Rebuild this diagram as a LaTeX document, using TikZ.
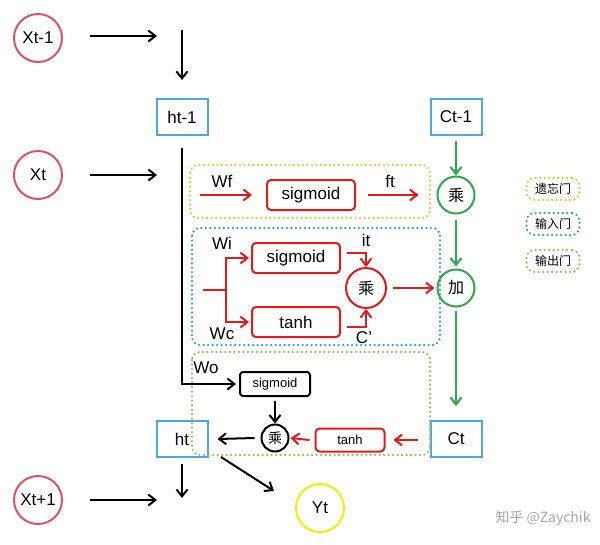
\documentclass[tikz,border=0pt]{standalone}
\usepackage{fontspec}
\setmainfont{Liberation Sans}
\newfontfamily\cjk{Noto Sans CJK SC}
\usetikzlibrary{arrows.meta}
\definecolor{cred}{HTML}{D9555F}
\definecolor{rr}{HTML}{E01B1B}
\definecolor{bb}{HTML}{4FA8D8}
\definecolor{gg}{HTML}{2EA84A}
\definecolor{yy}{HTML}{F0C030}
\definecolor{db}{HTML}{2AA0D0}
\definecolor{lg}{HTML}{90C050}
\begin{document}
\begin{tikzpicture}[x=1pt,y=-1pt,font=\fontsize{17}{19}\selectfont,
 >={Straight Barb[length=7pt,width=11pt,line width=2pt]},
 inc/.style={circle,draw=cred,line width=2pt,minimum size=48pt,inner sep=0},
 st/.style={draw=bb,line width=2pt,minimum width=51pt,minimum height=36pt},
 rbox/.style={draw=rr,line width=2pt,rounded corners=4pt,minimum width=88pt,minimum height=30pt},
 ba/.style={->,line width=2pt,black},
 ra/.style={->,line width=2pt,rr},
 ga/.style={->,line width=2pt,gg},
 gate/.style={line width=2.5pt,dash pattern=on 0pt off 4.5pt,line cap=round,rounded corners=8pt},
 lab/.style={inner sep=0}]
\useasboundingbox (0,0) rectangle (600,544);
\node[inc] (x1) at (38,38) {Xt-1};
\node[inc] (x2) at (38,175) {Xt};
\node[inc] (x3) at (38,500) {Xt+1};
\node[st] (h1) at (182,117) {ht-1};
\node[st] (c1) at (456,117) {Ct-1};
\node[st] (ht) at (182,439) {ht};
\node[st] (ct) at (456,439) {Ct};
\coordinate (a1) at (90,36); \coordinate (a1e) at (157,36);
\coordinate (a2) at (90,175); \coordinate (a2e) at (157,175);
\coordinate (a3) at (90,500); \coordinate (a3e) at (157,500);
\draw[ba] (a1) -- (a1e); \draw[ba] (a2) -- (a2e); \draw[ba] (a3) -- (a3e);
\coordinate (d1) at (182,30); \draw[ba] (d1) -- (182,80);
% gates
\draw[gate,yy] (190,165) rectangle (430,218);
\draw[gate,db] (192,228) rectangle (440,345);
\draw[gate,lg] (192,352) rectangle (430,455);
% forget
\node[rbox] (sf) at (311,195) {sigmoid};
\node[lab] at (222,181) {Wf};
\node[lab] at (390,181) {ft};
\coordinate (f0) at (200,195);
\draw[ra] (f0) -- ([xshift=-14pt]sf.west);
\node[circle,draw=gg,line width=2pt,minimum size=37pt,inner sep=0,font=\cjk\fontsize{16}{18}\selectfont] (m1) at (456,195) {乘};
\draw[ra] ([xshift=12pt]sf.east) -- ([xshift=-18pt]m1.west);
\draw[ga] ([yshift=-5pt]c1.south) -- (m1.north);
\node[circle,draw=gg,line width=2pt,minimum size=37pt,inner sep=0,font=\cjk\fontsize{16}{18}\selectfont] (p1) at (456,288) {加};
\draw[ga] ([yshift=-5pt]m1.south) -- ([yshift=2pt]p1.north);
\draw[ga] ([yshift=-3pt]p1.south) -- ([yshift=14pt]ct.north);
% input
\node[rbox] (si) at (296,258) {sigmoid};
\node[rbox] (tc) at (296,322) {tanh};
\node[lab] at (222,243) {Wi};
\node[lab] at (222,334) {Wc};
\node[lab] at (366,240) {it};
\node[lab] at (364,338) {C’};
\coordinate (b0) at (203,290); \coordinate (b1) at (226,290);
\draw[line width=2pt,rr] (b0) -- (b1);
\draw[ra] (b1) |- ([xshift=-2pt]si.west);
\draw[ra] (b1) |- ([xshift=-2pt]tc.west);
\node[circle,draw=rr,line width=2pt,minimum size=40pt,inner sep=0,font=\cjk\fontsize{16}{18}\selectfont] (m2) at (366,288) {乘};
\draw[ra] ([xshift=6pt,yshift=5pt]si.east) -| (m2.north);
\draw[ra] ([xshift=6pt,yshift=-5pt]tc.east) -| (m2.south);
\draw[ra] ([xshift=6pt]m2.east) -- ([xshift=-2pt]p1.west);
% output
\node[draw,line width=2pt,rounded corners=3pt,minimum width=70pt,minimum height=24pt,inner sep=0,font=\fontsize{13}{15}\selectfont] (so) at (275,384) {sigmoid};
\node[lab] at (206,368) {Wo};
\coordinate (v0) at (182,148);
\draw[ba] (v0) |- ([xshift=-3pt]so.west);
\node[circle,draw,line width=2pt,minimum size=27pt,inner sep=0,font=\cjk\fontsize{14}{16}\selectfont] (m3) at (275,438) {乘};
\draw[ba] ([yshift=-4pt]so.south) -- (m3.north);
\node[rbox,minimum width=69pt,minimum height=23pt,font=\fontsize{13}{15}\selectfont] (to) at (350,440) {tanh};
\draw[ra] ([xshift=-12pt,yshift=-1pt]ct.west) -- ([xshift=8pt]to.east);
\draw[ra] ([xshift=-5pt]to.west) -- ([xshift=1pt]m3.east);
\draw[ba] ([xshift=-6pt]m3.west) -- ([xshift=9pt]ht.east);
\draw[ba] ([yshift=-6pt]ht.south) -- (182,498);
\node[circle,draw=yellow!90!orange,line width=2pt,minimum size=48pt,inner sep=0] (yt) at (320,508) {Yt};
\draw[ba] (221,457) -- (274,491);
% legend
\node[draw=yy,gate,minimum width=53pt,minimum height=22pt,font=\cjk\fontsize{12}{14}\selectfont] (l1) at (553,189) {遗忘门};
\node[draw=db,gate,minimum width=53pt,minimum height=22pt,font=\cjk\fontsize{12}{14}\selectfont] (l2) at (553,224) {输入门};
\node[draw=lg,gate,minimum width=53pt,minimum height=22pt,font=\cjk\fontsize{12}{14}\selectfont] (l3) at (553,261) {输出门};
\node[text=gray!70,font=\cjk\fontsize{14}{16}\selectfont,anchor=east] (wm) at (594,518) {知乎 @Zaychik};
\end{tikzpicture}
\end{document}
